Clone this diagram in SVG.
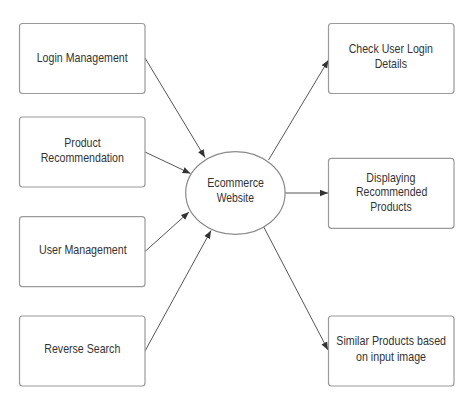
<svg xmlns="http://www.w3.org/2000/svg" width="474" height="410" viewBox="0 0 474 410">
<defs>
<marker id="ah" viewBox="0 0 10 10" refX="10" refY="5" markerWidth="8" markerHeight="8" markerUnits="userSpaceOnUse" orient="auto">
<path d="M0,1 L10,5 L0,9 Z" fill="#333"/>
</marker>
</defs>
<style>
.box{fill:#fff;stroke:#9a9a9a;stroke-width:1.2}
.ell{fill:#fff;stroke:#8a8a8a;stroke-width:1.2}
.t{font-family:"Liberation Sans",Arial,sans-serif;font-size:13.5px;fill:#333;text-anchor:middle}
.c{stroke:#555;stroke-width:1;fill:none;marker-end:url(#ah)}
</style>
<rect width="474" height="410" fill="#fff"/>
<g id="connectors">
<line class="c" x1="145" y1="58" x2="205" y2="157.5"/>
<line class="c" x1="145" y1="152" x2="190.5" y2="173.5"/>
<line class="c" x1="145" y1="251.5" x2="189" y2="212"/>
<line class="c" x1="145" y1="351" x2="211" y2="230.5"/>
<line class="c" x1="268.5" y1="160" x2="328.5" y2="60"/>
<line class="c" x1="285" y1="193" x2="328" y2="193"/>
<line class="c" x1="263.5" y1="226.5" x2="328" y2="350"/>
</g>
<g id="login-management">
<rect class="box" x="19.5" y="23.5" width="125.5" height="70" rx="3"/>
<text class="t" x="82.2" y="62" textLength="91" lengthAdjust="spacingAndGlyphs">Login Management</text>
</g>
<g id="product-recommendation">
<rect class="box" x="19.5" y="117" width="125.5" height="70" rx="3"/>
<text class="t" x="82.5" y="146.7" textLength="36.3" lengthAdjust="spacingAndGlyphs">Product</text>
<text class="t" x="82.3" y="162.3" textLength="83.3" lengthAdjust="spacingAndGlyphs">Recommendation</text>
</g>
<g id="user-management">
<rect class="box" x="19.5" y="216.7" width="125.5" height="70" rx="3"/>
<text class="t" x="82.8" y="254.3" textLength="87.7" lengthAdjust="spacingAndGlyphs">User Management</text>
</g>
<g id="reverse-search">
<rect class="box" x="19.5" y="316" width="125.5" height="70" rx="3"/>
<text class="t" x="82.3" y="353.3" textLength="76" lengthAdjust="spacingAndGlyphs">Reverse Search</text>
</g>
<g id="ecommerce-website">
<ellipse class="ell" cx="235.4" cy="193" rx="49.7" ry="41.3"/>
<text class="t" x="235.6" y="186.7" textLength="56.7" lengthAdjust="spacingAndGlyphs">Ecommerce</text>
<text class="t" x="235.3" y="201.7" textLength="37.3" lengthAdjust="spacingAndGlyphs">Website</text>
</g>
<g id="check-user-login">
<rect class="box" x="328.5" y="23.5" width="125.5" height="70" rx="3"/>
<text class="t" x="390.8" y="53.3" textLength="84.3" lengthAdjust="spacingAndGlyphs">Check User Login</text>
<text class="t" x="390.8" y="68.3" textLength="32.3" lengthAdjust="spacingAndGlyphs">Details</text>
</g>
<g id="displaying-recommended">
<rect class="box" x="328.5" y="158.3" width="125.5" height="70" rx="3"/>
<text class="t" x="390.8" y="181.7" textLength="49" lengthAdjust="spacingAndGlyphs">Displaying</text>
<text class="t" x="391.6" y="196" textLength="71.3" lengthAdjust="spacingAndGlyphs">Recommended</text>
<text class="t" x="391" y="211" textLength="41.3" lengthAdjust="spacingAndGlyphs">Products</text>
</g>
<g id="similar-products">
<rect class="box" x="328.5" y="316" width="125.5" height="70" rx="3"/>
<text class="t" x="391.2" y="345" textLength="109.7" lengthAdjust="spacingAndGlyphs">Similar Products based</text>
<text class="t" x="391" y="361" textLength="70" lengthAdjust="spacingAndGlyphs">on input image</text>
</g>
</svg>
